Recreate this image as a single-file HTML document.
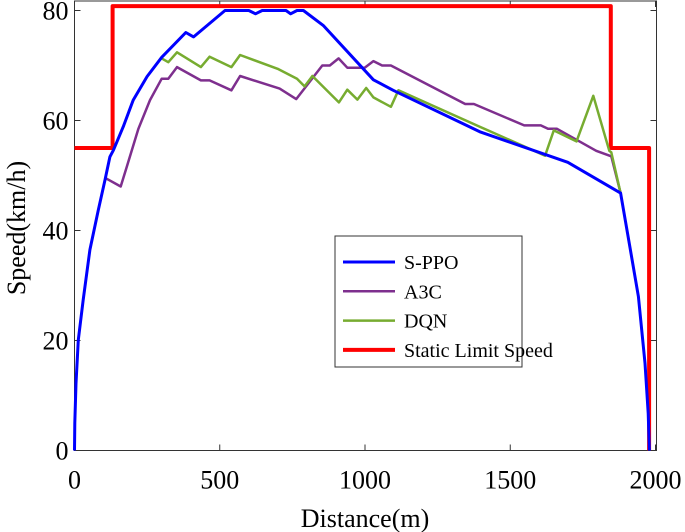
<!DOCTYPE html>
<html><head><meta charset="utf-8"><style>
body{margin:0;background:#fff;width:685px;height:532px;overflow:hidden}
svg{display:block;font-family:"Liberation Serif",serif}
</style></head><body>
<svg id="chart" width="685" height="532"></svg>
<script>
const xTicks=[0,500,1000,1500,2000];
const yTicks=[0,20,40,60,80];
const sppoX=[0,1,5,13,30,53,82,105,122,134,168,202,250,300,383,410,518,600,623,646,728,744,766,788,856,1029,1097,1398,1698,1880,1912,1941,1964,1975,1979];
const sppoY=[0,5,12.2,20.1,27.4,36.5,43.7,49.2,53.4,54.6,58.9,63.7,68,71.5,76,75.2,80,80,79.4,80,80,79.4,80,80,77.3,67.4,65.5,57.9,52.4,46.8,37,28,15.9,6.8,0];
const a3cX=[108,159,180,220,260,300,323,353,435,465,540,570,706,763,853,879,909,939,999,1029,1059,1089,1345,1375,1548,1605,1630,1661,1796,1848,1880];
const a3cY=[49.5,48,51.6,58.5,63.7,67.6,67.6,69.7,67.3,67.3,65.5,68.1,65.8,63.9,70,70,71.3,69.6,69.6,70.8,70,70,63,63,59.1,59.1,58.5,58.5,54.5,53.5,46.8];
const dqnX=[300,323,353,435,465,540,570,699,766,792,819,910,939,974,1004,1029,1089,1115,1398,1620,1650,1728,1786,1841,1848,1880];
const dqnY=[71.3,70.6,72.4,69.7,71.6,69.7,71.9,69.4,67.6,66.2,68.1,63.3,65.6,63.8,65.9,64.2,62.5,65.5,58.8,53.6,58.2,56.2,64.5,54.5,54.2,46.8];
const limX=[0,131,131,1846,1846,1978,1978];
const limY=[55,55,80.8,80.8,55,55,0];

const NS="http://www.w3.org/2000/svg";
const svg=document.getElementById('chart');
const X0=74.5,X1=655.5,Y0=450.5;
const sx=d=>X0+d*(X1-X0)/2000;
const sy=v=>Y0-v*5.5;
function mk(t,a){const e=document.createElementNS(NS,t);for(const k in a)e.setAttribute(k,a[k]);svg.appendChild(e);return e;}
function pts(xs,ys){return xs.map((x,i)=>sx(x).toFixed(1)+','+sy(ys[i]).toFixed(1)).join(' ');}

const frame=mk('rect',{x:X0,y:1,width:X1-X0+1,height:Y0-1,fill:'none',stroke:'#333','stroke-width':1});


xTicks.forEach(t=>{
  const x=sx(t);
  const l=mk('path',{d:`M${x},${Y0}v-6M${x},1v6`,stroke:'#333','stroke-width':1});
  
  
  const tx=mk('text',{x:x,y:Y0+38,'text-anchor':'middle','font-size':26,fill:'#000'});
  tx.textContent=t;
  
  
});
yTicks.forEach(t=>{
  const y=sy(t);
  const l=mk('path',{d:`M${X0},${y}h6M${X1+1},${y}h-6`,stroke:'#333','stroke-width':1});
  
  
  const tx=mk('text',{x:X0-6,y:y+9,'text-anchor':'end','font-size':26,fill:'#000'});
  tx.textContent=t;
  
  
});
const xl=mk('text',{x:365,y:527,'text-anchor':'middle','font-size':26});
xl.textContent='Distance(m)';


const yl=mk('text',{x:0,y:0,'text-anchor':'middle','font-size':26,transform:'translate(25,228) rotate(-90)'});
yl.textContent='Speed(km/h)';



const series=[
 [limX,limY,'#ff0000',4,'static-limit-line'],
 [a3cX,a3cY,'#7e2f8e',2.5,'a3c-line'],
 [dqnX,dqnY,'#77ac30',2.5,'dqn-line'],
 [sppoX,sppoY,'#0000ff',3,'s-ppo-line']];
series.forEach(s=>{
  const p=mk('polyline',{points:pts(s[0],s[1]),fill:'none',stroke:s[2],'stroke-width':s[3],'stroke-linejoin':'round'});
  
  
});

const lg=mk('rect',{x:335,y:236,width:187,height:131,fill:'#fff',stroke:'#333','stroke-width':1});


const legendNames=['S-PPO','A3C','DQN','Static Limit Speed'];
const legendCols=['#0000ff','#7e2f8e','#77ac30','#ff0000'];
const legendW=[3,2.5,2.5,4];
legendNames.forEach((n,i)=>{
  const y=262+i*29.3;
  const l=mk('line',{x1:343,x2:395,y1:y,y2:y,stroke:legendCols[i],'stroke-width':legendW[i]});
  
  
  const t=mk('text',{x:404,y:y+7,'font-size':20});
  t.textContent=n;
  
  
});
</script>
</body></html>
